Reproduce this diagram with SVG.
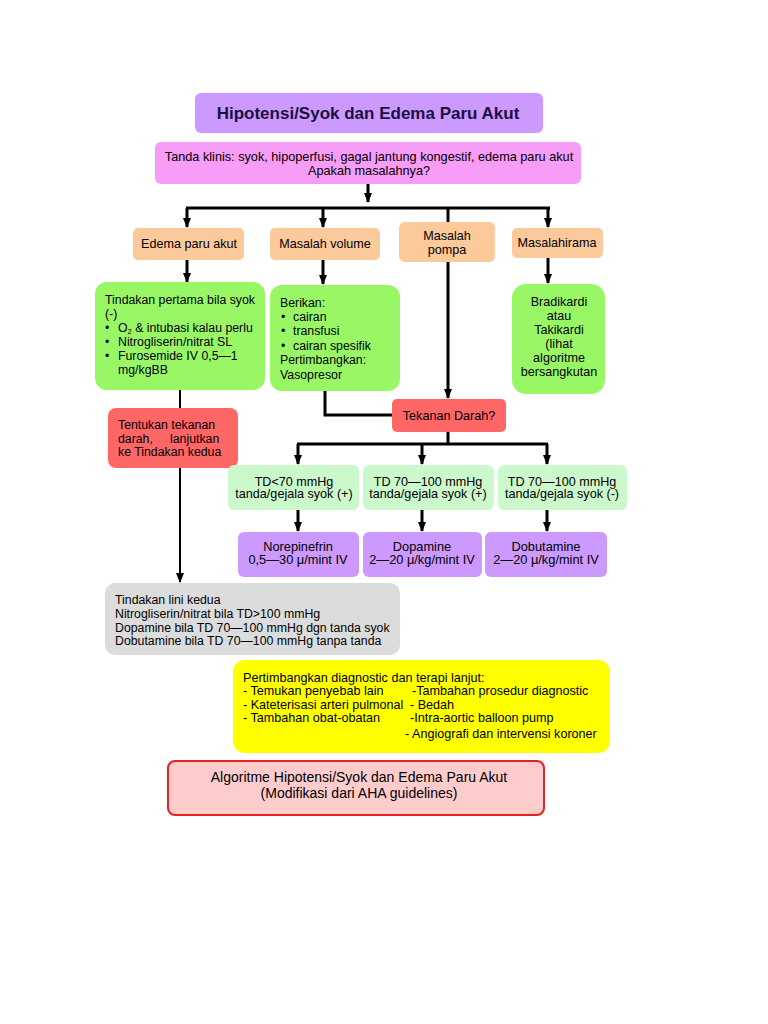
<svg xmlns="http://www.w3.org/2000/svg" width="768" height="1024" viewBox="0 0 768 1024">
<defs>
<marker id="ah" markerUnits="userSpaceOnUse" markerWidth="10" markerHeight="10" viewBox="0 0 10 10" refX="9" refY="5" orient="auto">
<path d="M0,1 L10,5 L0,9 Z" fill="#000"/>
</marker>
<style>
text{font-family:"Liberation Sans",Arial,sans-serif;fill:#000;}
.c{text-anchor:middle;}
.t11{font-size:12.3px;}
.t12{font-size:12.7px;}
.t125{font-size:12.6px;}
.ln{stroke:#000;stroke-width:3;fill:none;}
.ln2{stroke:#000;stroke-width:2;fill:none;}
.purple{fill:#cc99ff;}
.pink{fill:#f79cf7;}
.orange{fill:#fcca9a;}
.green{fill:#99f766;}
.red{fill:#ff6666;}
.mint{fill:#ccf9cc;}
.gray{fill:#dcdcdc;}
.yellow{fill:#ffff00;}
</style>
</defs>
<rect width="768" height="1024" fill="#fff"/>

<g id="connectors">
<line class="ln" x1="368" y1="184" x2="368" y2="202" marker-end="url(#ah)"/>
<line class="ln" x1="186" y1="208" x2="550" y2="208"/>
<line class="ln" x1="187" y1="208" x2="187" y2="227" marker-end="url(#ah)"/>
<line class="ln" x1="323" y1="208" x2="323" y2="227" marker-end="url(#ah)"/>
<line class="ln" x1="448" y1="208" x2="448" y2="222"/>
<line class="ln" x1="548" y1="208" x2="548" y2="227" marker-end="url(#ah)"/>
<line class="ln" x1="187" y1="260" x2="187" y2="282" marker-end="url(#ah)"/>
<line class="ln" x1="323" y1="260" x2="323" y2="284" marker-end="url(#ah)"/>
<line class="ln" x1="548" y1="258" x2="548" y2="283" marker-end="url(#ah)"/>
<line class="ln" x1="448" y1="262" x2="448" y2="398" marker-end="url(#ah)"/>
<polyline class="ln" points="325,391 325,415 392,415"/>
<line class="ln2" x1="180" y1="390" x2="180" y2="408"/>
<line class="ln2" x1="180" y1="468" x2="180" y2="582" marker-end="url(#ah)"/>
<line class="ln" x1="448" y1="432" x2="448" y2="444"/>
<line class="ln" x1="297" y1="444" x2="548" y2="444"/>
<line class="ln" x1="298" y1="444" x2="298" y2="464" marker-end="url(#ah)"/>
<line class="ln" x1="422" y1="444" x2="422" y2="464" marker-end="url(#ah)"/>
<line class="ln" x1="547" y1="444" x2="547" y2="464" marker-end="url(#ah)"/>
<line class="ln" x1="298" y1="510" x2="298" y2="531" marker-end="url(#ah)"/>
<line class="ln" x1="422" y1="510" x2="422" y2="531" marker-end="url(#ah)"/>
<line class="ln" x1="547" y1="510" x2="547" y2="531" marker-end="url(#ah)"/>
</g>

<g id="title">
<rect class="purple" x="195" y="93" width="348" height="40" rx="6"/>
<text class="c" x="368" y="119" style="font-size:17px;font-weight:bold;fill:#1a1040">Hipotensi/Syok dan Edema Paru Akut</text>
</g>

<g id="tanda-klinis">
<rect class="pink" x="155" y="142" width="426" height="42" rx="6"/>
<text class="c t12" x="369" y="161">Tanda klinis: syok, hipoperfusi, gagal jantung kongestif, edema paru akut</text>
<text class="c t12" x="369" y="175">Apakah masalahnya?</text>
</g>

<g id="edema">
<rect class="orange" x="133" y="228" width="111" height="32" rx="5"/>
<text class="c t125" x="189" y="248">Edema paru akut</text>
</g>
<g id="volume">
<rect class="orange" x="270" y="228" width="110" height="32" rx="5"/>
<text class="c t125" x="325" y="248">Masalah volume</text>
</g>
<g id="pompa">
<rect class="orange" x="399" y="222" width="96" height="40" rx="6"/>
<text class="c t125" x="447" y="240">Masalah</text>
<text class="c t125" x="447" y="254">pompa</text>
</g>
<g id="irama">
<rect class="orange" x="512" y="228" width="91" height="30" rx="5"/>
<text class="c t125" x="557" y="247">Masalahirama</text>
</g>

<g id="tindakan-pertama">
<rect class="green" x="95" y="282" width="170" height="108" rx="12"/>
<text class="t11" x="105" y="304">Tindakan pertama bila syok</text>
<text class="t11" x="105" y="318">(-)</text>
<text class="t11" x="105" y="332">•</text>
<text class="t11" x="118" y="332">O<tspan style="font-size:7.5px" dy="2">2</tspan><tspan dy="-2"> &amp; intubasi kalau perlu</tspan></text>
<text class="t11" x="105" y="346">•</text>
<text class="t11" x="118" y="346">Nitrogliserin/nitrat SL</text>
<text class="t11" x="105" y="360">•</text>
<text class="t11" x="118" y="360">Furosemide IV 0,5—1</text>
<text class="t11" x="118" y="374">mg/kgBB</text>
</g>

<g id="berikan">
<rect class="green" x="270" y="285" width="130" height="106" rx="12"/>
<text class="t11" x="280" y="307">Berikan:</text>
<text class="t11" x="281" y="321">•</text>
<text class="t11" x="293" y="321">cairan</text>
<text class="t11" x="281" y="335">•</text>
<text class="t11" x="293" y="335">transfusi</text>
<text class="t11" x="281" y="350">•</text>
<text class="t11" x="293" y="350">cairan spesifik</text>
<text class="t11" x="280" y="364">Pertimbangkan:</text>
<text class="t11" x="280" y="379">Vasopresor</text>
</g>

<g id="bradikardi">
<rect class="green" x="512" y="284" width="93" height="110" rx="14"/>
<text class="c t125" x="559" y="306">Bradikardi</text>
<text class="c t125" x="559" y="320">atau</text>
<text class="c t125" x="559" y="334">Takikardi</text>
<text class="c t125" x="559" y="348">(lihat</text>
<text class="c t125" x="559" y="362">algoritme</text>
<text class="c t125" x="559" y="376">bersangkutan</text>
</g>

<g id="tentukan">
<rect class="red" x="108" y="408" width="130" height="60" rx="8"/>
<text class="t11" x="118" y="429">Tentukan tekanan</text>
<text class="t11" x="118" y="443">darah,<tspan x="170">lanjutkan</tspan></text>
<text class="t11" x="118" y="456">ke Tindakan kedua</text>
</g>

<g id="tekanan-darah">
<rect class="red" x="392" y="399" width="114" height="33" rx="5"/>
<text class="c t125" x="449" y="420">Tekanan Darah?</text>
</g>

<g id="td1">
<rect class="mint" x="228" y="465" width="131" height="45" rx="6"/>
<text class="c t125" x="294" y="486">TD&lt;70 mmHg</text>
<text class="c t125" x="294" y="498">tanda/gejala syok (+)</text>
</g>
<g id="td2">
<rect class="mint" x="363" y="465" width="131" height="45" rx="6"/>
<text class="c t125" x="428" y="486">TD 70—100 mmHg</text>
<text class="c t125" x="428" y="498">tanda/gejala syok (+)</text>
</g>
<g id="td3">
<rect class="mint" x="498" y="465" width="129" height="45" rx="6"/>
<text class="c t125" x="562" y="486">TD 70—100 mmHg</text>
<text class="c t125" x="562" y="498">tanda/gejala syok (-)</text>
</g>

<g id="norepinefrin">
<rect class="purple" x="238" y="532" width="121" height="45" rx="6"/>
<text class="c" x="298" y="551" style="font-size:12.8px">Norepinefrin</text>
<text class="c" x="298" y="564" style="font-size:12.8px">0,5—30 μ/mint IV</text>
</g>
<g id="dopamine">
<rect class="purple" x="363" y="532" width="119" height="45" rx="6"/>
<text class="c" x="422" y="551" style="font-size:12.8px">Dopamine</text>
<text class="c" x="422" y="564" style="font-size:12.8px">2—20 μ/kg/mint IV</text>
</g>
<g id="dobutamine">
<rect class="purple" x="485" y="532" width="122" height="45" rx="6"/>
<text class="c" x="546" y="551" style="font-size:12.8px">Dobutamine</text>
<text class="c" x="546" y="564" style="font-size:12.8px">2—20 μ/kg/mint IV</text>
</g>

<g id="tindakan-kedua">
<rect class="gray" x="105" y="583" width="295" height="72" rx="10"/>
<text class="t11" x="115" y="604">Tindakan lini kedua</text>
<text class="t11" x="115" y="618">Nitrogliserin/nitrat bila TD&gt;100 mmHg</text>
<text class="t11" x="115" y="632">Dopamine bila TD 70—100 mmHg dgn tanda syok</text>
<text class="t11" x="115" y="645">Dobutamine bila TD 70—100 mmHg tanpa tanda</text>
</g>

<g id="pertimbangkan">
<rect class="yellow" x="233" y="660" width="377" height="93" rx="12"/>
<text class="t125" x="243" y="682">Pertimbangkan diagnostic dan terapi lanjut:</text>
<text class="t125" x="243" y="695">- Temukan penyebab lain</text>
<text class="t125" x="412" y="695">-Tambahan prosedur diagnostic</text>
<text class="t125" x="243" y="709">- Kateterisasi arteri pulmonal</text>
<text class="t125" x="410" y="709">- Bedah</text>
<text class="t125" x="243" y="722">- Tambahan obat-obatan</text>
<text class="t125" x="410" y="722">-Intra-aortic balloon pump</text>
<text class="t125" x="405" y="738">-  Angiografi dan intervensi koroner</text>
</g>

<g id="caption">
<rect x="168" y="761" width="376" height="54" rx="7" fill="#ffcccc" stroke="#e52222" stroke-width="2"/>
<text class="c" x="359" y="782" style="font-size:14px">Algoritme Hipotensi/Syok dan Edema Paru Akut</text>
<text class="c" x="359" y="798" style="font-size:14px">(Modifikasi dari AHA guidelines)</text>
</g>
</svg>
